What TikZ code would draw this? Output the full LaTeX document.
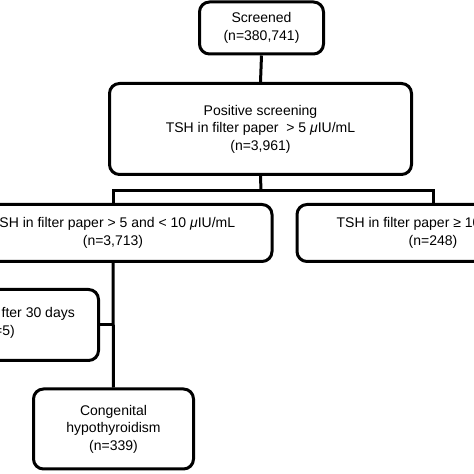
\documentclass[tikz,border=0pt]{standalone}
\usepackage{fontspec}
\setmainfont{Liberation Sans}
\begin{document}
\begin{tikzpicture}[x=1pt,y=1pt,
  box/.style={draw=black, line width=3pt, rounded corners=10pt, align=center,
    inner sep=0pt, font=\fontsize{14}{17.5}\selectfont},
  frag/.style={inner sep=0pt, font=\fontsize{14}{17.5}\selectfont},
  conn/.style={draw=black, line width=3pt}]
\useasboundingbox (0,0) rectangle (474,474);
\clip (0,0) rectangle (474,474);
\fill[white] (0,0) rectangle (474,474);
\node[box, minimum width=124, minimum height=52] (scr) at (261.5,446)
  {Screened\\(n=380,741)};
\node[box, minimum width=302, minimum height=91] (pos) at (260.5,345)
  {Positive screening\\TSH in filter paper~ > 5 {\itshape μ}IU/mL\\(n=3,961)};
\node[box, minimum width=318, minimum height=57] (left) at (113,241)
  {TSH in filter paper > 5 and < 10 {\itshape μ}IU/mL\\(n=3,713)};
\node[box, minimum width=272, minimum height=57] (right) at (433,241)
  {TSH in filter paper ≥ 10 {\itshape μ}IU/mL\\(n=248)};
\node[box, minimum width=200, minimum height=71] (small) at (-1.5,149) {};
\node[frag, anchor=base east] (s1) at (75,156) {fter 30 days};
\node[frag, anchor=base east] (s2) at (15,138) {=5)};
\node[box, minimum width=160, minimum height=80] (cong) at (113.5,45)
  {Congenital\\hypothyroidism\\(n=339)};
\coordinate (j) at (261,283);
\draw[conn] (scr.south) -- (pos.north);
\draw[conn] (pos.south) -- (j);
\draw[conn] (left.north) |- (j) -| (right.north);
\draw[conn] (left.south) -- (cong.north);
\draw[conn] (small.east) -- (small.east -| left.south);
\end{tikzpicture}
\end{document}
